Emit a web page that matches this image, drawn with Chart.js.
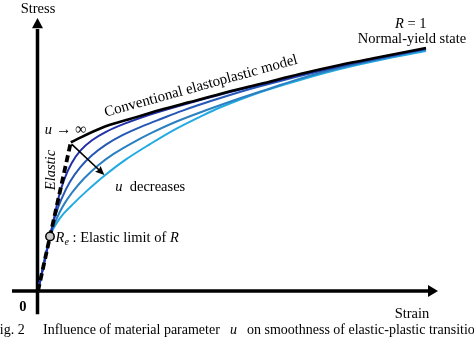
<!DOCTYPE html>
<html><head><meta charset="utf-8">
<script src="https://cdn.jsdelivr.net/npm/chart.js@4/dist/chart.umd.min.js"></script>
<style>html,body{margin:0;padding:0;background:#fff;overflow:hidden}#wrap{width:474px;height:337px;position:relative}canvas{display:block}</style>
</head><body><div id="wrap"><canvas id="c" width="474" height="337" style="width:474px;height:337px"></canvas></div>
<script>
// ---- data (strain / stress in arbitrary units) ----
const strainRange = [0, 10];
const stressRange = [0, 10];
const elasticLimitStrain = [0.3];
const elasticLimitStress = [2.0];
const elasticStrain = [0, 0.82];
const elasticStress = [0, 5.45];
const convStrain = [0.82, 1.6, 2.3, 3.05, 3.8, 4.55, 5.55, 6.55, 7.55, 8.55, 9.7];
const convStress = [5.45, 5.98, 6.30, 6.63, 6.92, 7.22, 7.58, 7.95, 8.28, 8.57, 8.90];
const u1Strain = [0, 0.3, 0.4, 0.52, 0.66, 0.84, 1.06, 1.35, 1.7, 2.15, 2.75, 3.5, 4.5, 5.55, 7.55, 9.7];
const u1Stress = [0, 2.0, 2.66, 3.45, 4.1, 4.68, 5.14, 5.52, 5.83, 6.12, 6.44, 6.77, 7.17, 7.55, 8.25, 8.88];
const u2Strain = [0, 0.3, 0.42, 0.58, 0.8, 1.05, 1.35, 1.7, 2.1, 2.6, 3.1, 3.6, 4.3, 5.55, 7.55, 9.7];
const u2Stress = [0, 2.0, 2.7, 3.35, 4.0, 4.52, 4.97, 5.36, 5.7, 6.03, 6.32, 6.6, 6.95, 7.5, 8.22, 8.86];
const u3Strain = [0, 0.3, 0.45, 0.62, 0.85, 1.15, 1.5, 1.9, 2.35, 2.85, 3.45, 4.2, 5.05, 5.8, 6.55, 7.55, 9.7];
const u3Stress = [0, 2.0, 2.6, 3.1, 3.6, 4.12, 4.6, 5.03, 5.42, 5.8, 6.2, 6.62, 7.06, 7.42, 7.78, 8.18, 8.85];
const u4Strain = [0, 0.3, 0.45, 0.65, 0.9, 1.2, 1.675, 2.2, 2.8, 3.35, 4.05, 4.55, 5.55, 6.55, 7.55, 8.55, 9.7];
const u4Stress = [0, 2.0, 2.45, 2.85, 3.22, 3.64, 4.24, 4.82, 5.38, 5.86, 6.38, 6.72, 7.28, 7.73, 8.13, 8.46, 8.79];

const zip = (xs, ys) => xs.map((x, i) => ({x, y: ys[i]}));
const SERIF = '"Liberation Serif","Times New Roman",serif';

function arrow(ctx, x1, y1, x2, y2, len, wid, lw) {
  const a = Math.atan2(y2 - y1, x2 - x1);
  ctx.save();
  ctx.strokeStyle = '#000'; ctx.fillStyle = '#000'; ctx.lineWidth = lw;
  ctx.beginPath(); ctx.moveTo(x1, y1);
  ctx.lineTo(x2 - Math.cos(a) * len * 0.8, y2 - Math.sin(a) * len * 0.8); ctx.stroke();
  ctx.beginPath(); ctx.moveTo(x2, y2);
  ctx.lineTo(x2 - Math.cos(a) * len + Math.sin(a) * wid / 2, y2 - Math.sin(a) * len - Math.cos(a) * wid / 2);
  ctx.lineTo(x2 - Math.cos(a) * len * 0.85, y2 - Math.sin(a) * len * 0.85);
  ctx.lineTo(x2 - Math.cos(a) * len - Math.sin(a) * wid / 2, y2 - Math.sin(a) * len + Math.cos(a) * wid / 2);
  ctx.closePath(); ctx.fill();
  ctx.restore();
}
function rich(ctx, parts, x, y, align) {
  ctx.save();
  ctx.textBaseline = 'alphabetic'; ctx.fillStyle = '#000';
  let total = 0;
  parts.forEach(p => { ctx.font = p.f; p.w = ctx.measureText(p.t).width; total += p.w; });
  let cx = align === 'center' ? x - total / 2 : x;
  parts.forEach(p => { ctx.font = p.f; ctx.textAlign = 'left'; ctx.fillText(p.t, cx, y + (p.dy || 0)); cx += p.w; });
  ctx.restore();
}

const decor = {
  id: 'decor',
  beforeDatasetsDraw(chart) {
    const ctx = chart.ctx, xs = chart.scales.x, ys = chart.scales.y;
    const X = v => xs.getPixelForValue(v), Y = v => ys.getPixelForValue(v);
    ctx.save();
    ctx.strokeStyle = '#000'; ctx.lineWidth = 3.5;
    ctx.beginPath(); ctx.moveTo(X(0) - 0.5, Y(-0.85)); ctx.lineTo(X(0) - 0.5, Y(9.6)); ctx.stroke();
    ctx.beginPath(); ctx.moveTo(X(-0.65), Y(0)); ctx.lineTo(X(9.8), Y(0)); ctx.stroke();
    ctx.fillStyle = '#000';
    ctx.beginPath(); ctx.moveTo(X(0) - 0.5, Y(10)); ctx.lineTo(X(0) - 6, Y(9.62)); ctx.lineTo(X(0) + 5, Y(9.62)); ctx.closePath(); ctx.fill();
    ctx.beginPath(); ctx.moveTo(X(10), Y(0)); ctx.lineTo(X(9.75), Y(0) - 6); ctx.lineTo(X(9.75), Y(0) + 6); ctx.closePath(); ctx.fill();
    ctx.restore();
  },
  afterDatasetsDraw(chart) {
    const ctx = chart.ctx, xs = chart.scales.x, ys = chart.scales.y;
    const X = v => xs.getPixelForValue(v), Y = v => ys.getPixelForValue(v);
    const N = '14.5px ' + SERIF, I = 'italic 14.5px ' + SERIF;
    arrow(ctx, X(0.84), Y(5.38), X(1.66), Y(4.25), 9, 8, 1.6);
    rich(ctx, [{t: 'Stress', f: N}], X(0), Y(10.2), 'center');
    rich(ctx, [{t: 'Strain', f: N}], X(9.35), Y(-0.98), 'center');
    rich(ctx, [{t: '0', f: 'bold 14.5px ' + SERIF}], X(-0.38), Y(-0.72), 'center');
    rich(ctx, [{t: 'R', f: I}, {t: ' = 1', f: N}], X(9.32), Y(9.63), 'center');
    rich(ctx, [{t: 'Normal-yield state', f: N}], X(9.35), Y(9.1), 'center');
    rich(ctx, [{t: 'u', f: I}, {t: ' \u2192 \u221E', f: '15.5px ' + SERIF}], X(0.17), Y(5.74), 'left');
    rich(ctx, [{t: 'u', f: I}, {t: '  decreases', f: N}], X(1.93), Y(3.68), 'left');
    rich(ctx, [{t: 'R', f: I}, {t: 'e', f: 'italic 10px ' + SERIF, dy: 3}, {t: ' : Elastic limit of ', f: N}, {t: 'R', f: I}], X(0.44), Y(1.78), 'left');
    ctx.save();
    ctx.translate(X(0.43), Y(4.43)); ctx.rotate(-Math.PI / 2);
    ctx.font = I; ctx.textAlign = 'center'; ctx.textBaseline = 'alphabetic'; ctx.fillStyle = '#000';
    ctx.fillText('Elastic', 0, 0);
    ctx.restore();
    ctx.save();
    ctx.translate(X(4.1), Y(7.36)); ctx.rotate(-15.5 * Math.PI / 180);
    ctx.font = '15px ' + SERIF; ctx.textAlign = 'center'; ctx.textBaseline = 'alphabetic'; ctx.fillStyle = '#000';
    ctx.fillText('Conventional elastoplastic model', 0, 0);
    ctx.restore();
    const ca = chart.chartArea;
    const C = '14px ' + SERIF, CI = 'italic 14px ' + SERIF;
    const cy = ca.bottom + 43;
    rich(ctx, [{t: 'Fig. 2', f: C}], ca.left - 46, cy, 'left');
    rich(ctx, [{t: 'Influence of material parameter', f: C}], ca.left + 5, cy, 'left');
    rich(ctx, [{t: 'u', f: CI}], ca.left + 192, cy, 'left');
    rich(ctx, [{t: 'on smoothness of elastic-plastic transition', f: C}], ca.left + 209, cy, 'left');
  }
};

const line = (data, color, w, extra) => Object.assign({
  data, showLine: true, borderColor: color, backgroundColor: color, borderWidth: w,
  pointRadius: 0, tension: 0.35, clip: false, fill: false
}, extra || {});

new Chart(document.getElementById('c'), {
  type: 'scatter',
  data: {
    datasets: [
      line(zip(elasticLimitStrain, elasticLimitStress), '#000', 1.5, {showLine: false, pointRadius: 4.2, pointBackgroundColor: '#c9c9c9', pointBorderColor: '#000', pointBorderWidth: 1.5, order: 0}),
      line(zip(elasticStrain, elasticStress), '#000', 3.8, {borderDash: [7, 4], tension: 0, order: 1}),
      line(zip(convStrain, convStress), '#000', 2.6, {order: 2}),
      line(zip(u1Strain, u1Stress), '#2230a8', 2, {order: 3}),
      line(zip(u2Strain, u2Stress), '#2558b5', 2, {order: 4}),
      line(zip(u3Strain, u3Stress), '#2a80c0', 2, {order: 5}),
      line(zip(u4Strain, u4Stress), '#22aae2', 2, {order: 6})
    ]
  },
  options: {
    responsive: false, animation: false, devicePixelRatio: 1,
    layout: {padding: {left: 38, right: 36, top: 18, bottom: 46}},
    plugins: {legend: {display: false}, tooltip: {enabled: false}, title: {display: false}},
    scales: {
      x: {type: 'linear', min: strainRange[0], max: strainRange[1], display: false},
      y: {type: 'linear', min: stressRange[0], max: stressRange[1], display: false}
    }
  },
  plugins: [decor]
});
</script>
</body></html>
